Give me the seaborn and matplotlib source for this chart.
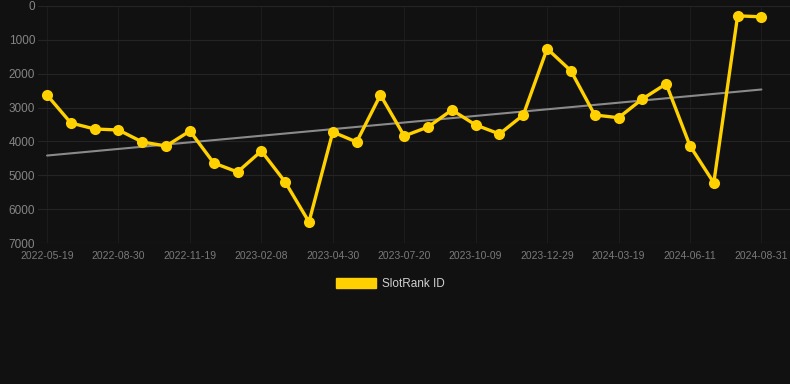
import numpy as np
import pandas as pd
import matplotlib
matplotlib.use("Agg")
import matplotlib.pyplot as plt
import seaborn as sns
from matplotlib.patches import Patch

# ---- data ----
slotrank_id = [2630, 3455, 3633, 3662, 4017, 4135, 3692, 4637, 4903, 4282,
               5198, 6379, 3721, 4017, 2628, 3839, 3574, 3071, 3514, 3780,
               3219, 1260, 1915, 3219, 3300, 2747, 2298, 4130, 5222, 290, 320]
tick_labels = ["2022-05-19", "2022-08-30", "2022-11-19", "2023-02-08",
               "2023-04-30", "2023-07-20", "2023-10-09", "2023-12-29",
               "2024-03-19", "2024-06-11", "2024-08-31"]
y_ticks = [0, 1000, 2000, 3000, 4000, 5000, 6000, 7000]

BG = "#111111"
GOLD = "#FFD100"

sns.set_theme(style="dark")
plt.rcParams["font.family"] = ["Liberation Sans", "DejaVu Sans"]

idx = np.arange(len(slotrank_id))
df = pd.DataFrame({"idx": idx, "value": slotrank_id})

fig = plt.figure(figsize=(7.9, 3.84), dpi=100, facecolor=BG)
ax = fig.add_axes([38 / 790, 1 - 243 / 384, 1 - 38 / 790, (243 - 6) / 384])
ax.set_facecolor(BG)

# trend line (least squares fit)
coef = np.polyfit(idx, slotrank_id, 1)
df["trend"] = np.polyval(coef, idx)
sns.lineplot(data=df, x="idx", y="trend", ax=ax, color="#8a8a8a", linewidth=1.5,
             zorder=2, legend=False)

sns.lineplot(data=df, x="idx", y="value", ax=ax, color=GOLD, linewidth=2.4,
             marker="o", markersize=8, markeredgewidth=0, zorder=3,
             legend=False, clip_on=False)

ax.set_ylim(7000, 0)
ax.set_xlim(-0.38, 31.2)
ax.set_yticks(y_ticks)
ax.set_yticklabels([str(v) for v in y_ticks])
tick_pos = idx[::3]
ax.set_xticks(tick_pos)
ax.set_xticklabels(tick_labels)

ax.yaxis.grid(True, color="#242424", linewidth=0.8)
ax.xaxis.grid(True, color="#1c1c1c", linewidth=0.8)
ax.axhline(7000, color="#2a2a2a", linewidth=0.8, zorder=1)
for s in ax.spines.values():
    s.set_visible(False)
ax.tick_params(axis="y", colors="#858585", labelsize=8.5, length=0, pad=2)
ax.tick_params(axis="x", colors="#7a7a7a", labelsize=7.5, length=0, pad=6)
ax.set_xlabel("")
ax.set_ylabel("")

handle = Patch(facecolor=GOLD, edgecolor=GOLD, label="SlotRank ID")
leg = fig.legend(handles=[handle], loc="center", bbox_to_anchor=(390 / 790, 1 - 284 / 384),
                 frameon=False, fontsize=8.5, handlelength=3.4, handleheight=0.9,
                 handletextpad=0.5)
for t in leg.get_texts():
    t.set_color("#d0d0d0")

fig.savefig("out.png", dpi=100, facecolor=BG)
